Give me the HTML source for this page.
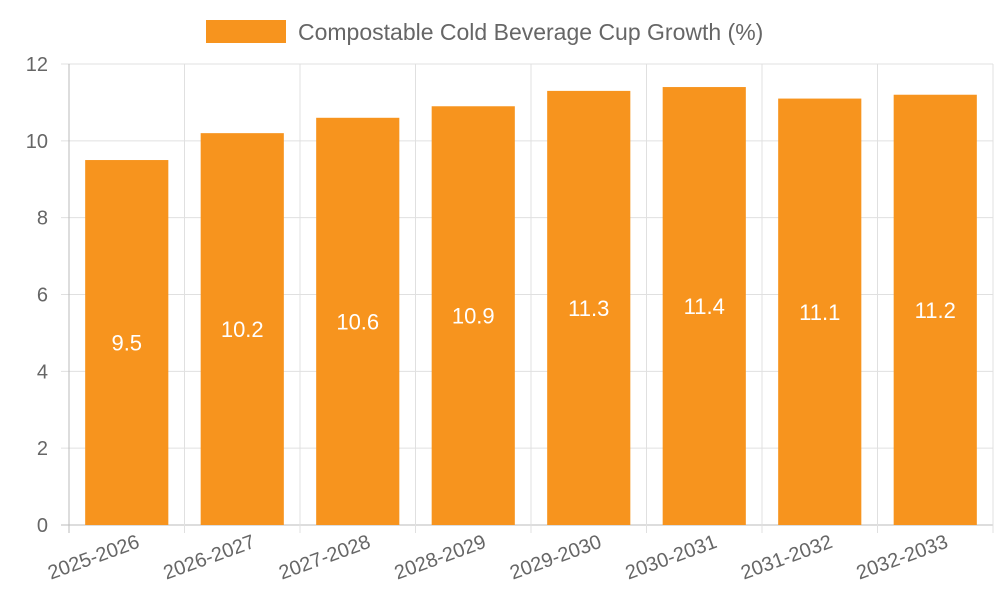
<!DOCTYPE html>
<html><head><meta charset="utf-8"><style>
body{margin:0;background:#fff;font-family:"Liberation Sans",sans-serif}
</style></head><body>
<svg id="chart" width="1000" height="600" xmlns="http://www.w3.org/2000/svg">
<g>
<rect x="206" y="20" width="80" height="23" fill="#f7941e"/>
<text x="298" y="40" font-size="23" fill="#666">Compostable Cold Beverage Cup Growth (%)</text>
</g>
<g id="grid"></g><g id="bars"></g><g id="labels"></g>
</svg>
<script>
const categories=["2025-2026","2026-2027","2027-2028","2028-2029","2029-2030","2030-2031","2031-2032","2032-2033"];
const values=[9.5,10.2,10.6,10.9,11.3,11.4,11.1,11.2];
const yTicks=[0,2,4,6,8,10,12];
const NS="http://www.w3.org/2000/svg";
const L=69,R=993,T=64,B=525,yMax=12;
const bw=(R-L)/categories.length;
const x=i=>L+bw*i;
const y=v=>B-(v/yMax)*(B-T);
function mk(t,a,p){const e=document.createElementNS(NS,t);for(const k in a)e.setAttribute(k,a[k]);p.appendChild(e);return e;}
const g=document.getElementById('grid'),bg=document.getElementById('bars'),lg=document.getElementById('labels');
yTicks.forEach(v=>{
const l=mk('line',{x1:61,x2:R,y1:y(v),y2:y(v),stroke:v===0?'#bbb':'#e0e0e0','stroke-width':1},g);


const t=mk('text',{x:48,y:y(v)+7,'text-anchor':'end','font-size':20,fill:'#666'},g);
t.textContent=v;


});
for(let i=0;i<=categories.length;i++){
const l=mk('line',{x1:x(i),x2:x(i),y1:T,y2:B+8,stroke:i===0?'#bbb':'#e0e0e0','stroke-width':1},g);


}
categories.forEach((c,i)=>{
const cx=x(i)+bw/2,w=bw*0.72;
const r=mk('rect',{x:cx-w/2,y:y(values[i]),width:w,height:B-y(values[i]),fill:'#f7941e'},bg);


const v=mk('text',{x:cx,y:(y(values[i])+B)/2+8,'text-anchor':'middle','font-size':22,fill:'#fff'},lg);
v.textContent=values[i];


const t=mk('text',{x:cx+14,y:B+22,'text-anchor':'end','font-size':20,fill:'#666',transform:`rotate(-20 ${cx+14} ${B+22})`},lg);
t.textContent=c;


});
</script>
</body></html>
